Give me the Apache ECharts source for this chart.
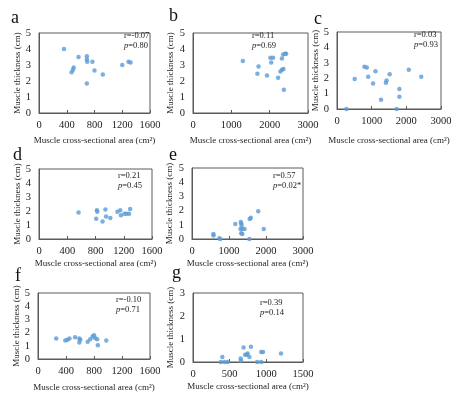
<!DOCTYPE html>
<html>
<head>
<meta charset="utf-8">
<title>Muscle thickness vs cross-sectional area</title>
<script src="https://cdn.jsdelivr.net/npm/echarts@6/dist/echarts.min.js"></script>
<style>
    html, body { margin: 0; padding: 0; background: #fff; }
    #chart { width: 474px; height: 399px; }
</style>
</head>
<body>
<div id="chart"></div>
<script>
// 各小图的数据：横坐标为肌肉横截面积，纵坐标为肌肉厚度
var aArea = [360, 570, 690, 690, 695, 770, 800, 470, 490, 500, 690, 920, 1200, 1290, 1320];
var aThick = [4.0, 3.5, 3.55, 3.35, 3.2, 3.2, 2.65, 2.55, 2.7, 2.85, 1.85, 2.4, 3.0, 3.2, 3.15];

var bArea = [1300, 1710, 1680, 1930, 2020, 2090, 2040, 2220, 2320, 2350, 2400, 2430, 2280, 2320, 2360, 2370];
var bThick = [3.25, 2.9, 2.45, 2.35, 3.45, 3.45, 3.15, 2.2, 3.4, 3.65, 3.7, 3.7, 2.6, 2.7, 2.75, 1.45];

var cArea = [270, 510, 790, 860, 900, 1040, 1110, 1270, 1410, 1430, 1520, 1720, 1800, 1800, 2070, 2430];
var cThick = [0, 1.95, 2.75, 2.7, 2.1, 1.65, 2.45, 0.6, 1.7, 1.85, 2.25, 0, 1.3, 0.8, 2.55, 2.1];

var dArea = [560, 820, 825, 810, 900, 940, 950, 1010, 1110, 1150, 1160, 1210, 1240, 1275, 1290];
var dThick = [1.9, 2.05, 1.95, 1.45, 1.25, 2.1, 1.6, 1.5, 1.95, 2.05, 1.7, 1.8, 1.8, 1.8, 2.15];

var eArea = [580, 580, 740, 760, 1170, 1320, 1330, 1340, 1310, 1360, 1420, 1330, 1360, 1560, 1590, 1790, 1940, 1550];
var eThick = [0.35, 0.25, 0.05, 0, 1.05, 1.2, 1.1, 0.95, 0.7, 0.7, 0.7, 0.4, 0.35, 1.4, 1.5, 1.95, 0.7, 0];

var fArea = [260, 390, 420, 450, 530, 590, 590, 605, 710, 745, 780, 800, 815, 845, 855, 975];
var fThick = [1.55, 1.4, 1.45, 1.55, 1.65, 1.55, 1.25, 1.45, 1.3, 1.5, 1.7, 1.8, 1.6, 1.5, 1.05, 1.4];

var gArea = [400, 380, 430, 475, 650, 655, 690, 710, 735, 745, 770, 790, 875, 930, 930, 955, 1200];
var gThick = [0.22, 0, 0, 0, 0.15, 0.05, 0.63, 0.32, 0.32, 0.37, 0.22, 0.66, 0, 0, 0.44, 0.44, 0.37];

// 相关系数标注
var panelLetters = ["a", "b", "c", "d", "e", "f", "g"];
var rLabels = ["r=-0.07", "r=0.11", "r=0.03", "r=0.21", "r=0.57", "r=-0.10", "r=0.39"];
var pLabels = ["=0.80", "=0.69", "=0.93", "=0.45", "=0.02*", "=0.71", "=0.14"];

// 坐标轴范围与刻度间隔
var xMaxes = [1600, 3000, 3000, 1600, 3000, 1600, 1500];
var xSteps = [400, 1000, 1000, 400, 1000, 400, 500];
var yMaxes = [5, 5, 5, 5, 5, 5, 3];

(function () {
    var myChart = echarts.init(document.getElementById("chart"));
    var serif = "'Liberation Serif', 'DejaVu Serif', serif";

    var areas = [aArea, bArea, cArea, dArea, eArea, fArea, gArea];
    var thicks = [aThick, bThick, cThick, dThick, eThick, fThick, gThick];

    // 每个小图的绘图区位置
    var boxes = [
        { left: 39, top: 33, width: 111, height: 80, xGap: 23, yGap: 17 },
        { left: 193, top: 33, width: 115, height: 80, xGap: 23, yGap: 18 },
        { left: 337, top: 32, width: 104, height: 77, xGap: 27, yGap: 17 },
        { left: 39, top: 169, width: 113, height: 70, xGap: 20, yGap: 17 },
        { left: 192, top: 168, width: 111, height: 71, xGap: 20, yGap: 18 },
        { left: 38, top: 293, width: 112, height: 66, xGap: 24, yGap: 17 },
        { left: 193, top: 293, width: 110, height: 69, xGap: 20, yGap: 18 }
    ];
    // 字母标记位置
    var letterPos = [[6, 4], [164, 2], [309, 5], [8, 141], [164, 141], [10, 262], [167, 259]];
    // r/p 标注位置
    var notePos = [[124, 31], [252, 31], [414, 30], [118, 171], [273, 171], [116, 295], [260, 298]];

    var grid = [], xAxis = [], yAxis = [], series = [], title = [], graphic = [];

    for (var i = 0; i < 7; i++) {
        var b = boxes[i];
        grid.push({
            left: b.left, top: b.top, width: b.width, height: b.height,
            show: true, borderColor: "#5a5a5a", borderWidth: 1, backgroundColor: "#fff"
        });
        xAxis.push({
            gridIndex: i,
            type: "value",
            min: 0, max: xMaxes[i], interval: xSteps[i],
            name: "Muscle cross-sectional area (cm\u00b2)",
            nameLocation: "middle",
            nameGap: b.xGap,
            nameTextStyle: { fontFamily: serif, fontSize: 9, color: "#222" },
            axisLine: { show: true, lineStyle: { color: "#5a5a5a" } },
            axisTick: { show: true, inside: true, length: 3, lineStyle: { color: "#5a5a5a" } },
            axisLabel: {
                fontFamily: serif, fontSize: 10.5, color: "#222", margin: 7,
                // 不要千位分隔符
                formatter: function (v) { return String(v); }
            },
            splitLine: { show: false }
        });
        yAxis.push({
            gridIndex: i,
            type: "value",
            min: 0, max: yMaxes[i], interval: 1,
            name: "Muscle thickness (cm)",
            nameLocation: "middle",
            nameGap: b.yGap,
            nameTextStyle: { fontFamily: serif, fontSize: 9, color: "#222" },
            axisLine: { show: true, lineStyle: { color: "#5a5a5a" } },
            axisTick: { show: false },
            axisLabel: { fontFamily: serif, fontSize: 10.5, color: "#222", margin: 8 },
            splitLine: { show: false }
        });
        var pts = [];
        for (var k = 0; k < areas[i].length; k++) {
            pts.push([areas[i][k], thicks[i][k]]);
        }
        series.push({
            type: "scatter",
            xAxisIndex: i, yAxisIndex: i,
            symbolSize: 4.5,
            itemStyle: { color: "#5b9bd5" },
            data: pts
        });
        title.push({
            text: panelLetters[i],
            left: letterPos[i][0], top: letterPos[i][1],
            textStyle: { fontFamily: serif, fontSize: 18, fontWeight: "normal", color: "#111" }
        });
        graphic.push({
            type: "text",
            left: notePos[i][0], top: notePos[i][1],
            style: {
                text: rLabels[i] + "\n{i|p}" + pLabels[i],
                font: "8.5px " + serif,
                fill: "#222",
                lineHeight: 10,
                rich: { i: { fontStyle: "italic", fontFamily: serif, fontSize: 8.5, fill: "#222" } }
            }
        });
    }

    var option = {
        animation: false,
        title: title,
        grid: grid,
        xAxis: xAxis,
        yAxis: yAxis,
        series: series,
        graphic: graphic
    };
    myChart.setOption(option);
    window.addEventListener("resize", function () {
        myChart.resize();
    });
})();
</script>
</body>
</html>
